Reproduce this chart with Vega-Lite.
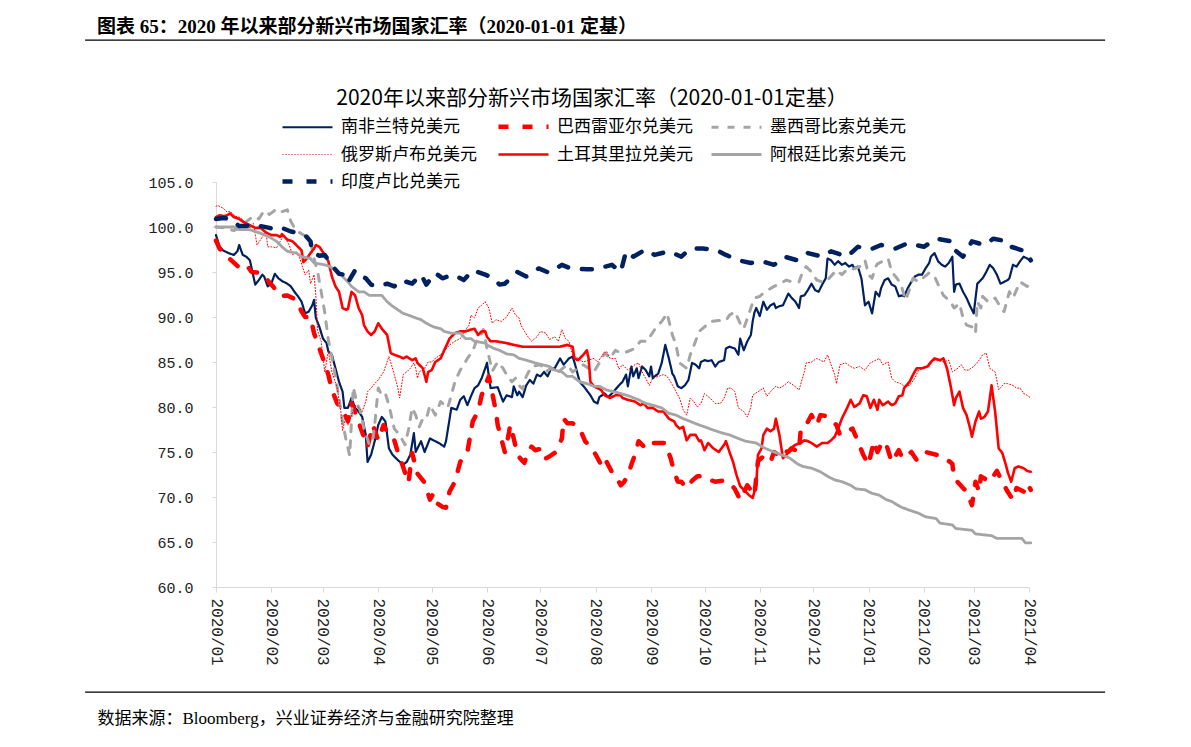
{
  "$schema": "https://vega.github.io/schema/vega-lite/v6.json",
  "width": 1020,
  "height": 652,
  "autosize": {"type": "none"},
  "padding": {"left": 85, "top": 40, "right": 86, "bottom": 55},
  "background": "#ffffff",
  "title": {
    "text": "图表 65：2020 年以来部分新兴市场国家汇率（2020-01-01 定基）",
    "anchor": "start",
    "frame": "group",
    "dx": 12,
    "offset": 3,
    "font": "Liberation Serif, Noto Sans CJK SC",
    "fontSize": 19,
    "fontWeight": "bold",
    "color": "#000000"
  },
  "datasets": {
    "names": [
      {"s": "ZAR", "name": "南非兰特兑美元"},
      {"s": "BRL", "name": "巴西雷亚尔兑美元"},
      {"s": "MXN", "name": "墨西哥比索兑美元"},
      {"s": "RUB", "name": "俄罗斯卢布兑美元"},
      {"s": "TRY", "name": "土耳其里拉兑美元"},
      {"s": "ARS", "name": "阿根廷比索兑美元"},
      {"s": "INR", "name": "印度卢比兑美元"}
    ],
    "fx": [
      {"s":"ZAR","d":"2020/01/01","v":99.1},{"s":"ZAR","d":"2020/01/03","v":97.8},{"s":"ZAR","d":"2020/01/05","v":97.4},{"s":"ZAR","d":"2020/01/08","v":97.1},{"s":"ZAR","d":"2020/01/11","v":96.9},{"s":"ZAR","d":"2020/01/13","v":97.3},{"s":"ZAR","d":"2020/01/14","v":98.0},{"s":"ZAR","d":"2020/01/16","v":96.9},{"s":"ZAR","d":"2020/01/18","v":96.7},{"s":"ZAR","d":"2020/01/20","v":96.3},{"s":"ZAR","d":"2020/01/23","v":93.6},{"s":"ZAR","d":"2020/01/25","v":94.1},{"s":"ZAR","d":"2020/01/27","v":94.7},{"s":"ZAR","d":"2020/01/28","v":94.5},{"s":"ZAR","d":"2020/01/30","v":93.4},{"s":"ZAR","d":"2020/02/01","v":93.7},{"s":"ZAR","d":"2020/02/03","v":94.8},{"s":"ZAR","d":"2020/02/05","v":94.3},{"s":"ZAR","d":"2020/02/07","v":94.0},{"s":"ZAR","d":"2020/02/10","v":93.7},{"s":"ZAR","d":"2020/02/12","v":93.4},{"s":"ZAR","d":"2020/02/14","v":92.8},{"s":"ZAR","d":"2020/02/16","v":92.3},{"s":"ZAR","d":"2020/02/18","v":91.7},{"s":"ZAR","d":"2020/02/20","v":90.4},{"s":"ZAR","d":"2020/02/22","v":90.6},{"s":"ZAR","d":"2020/02/24","v":91.3},{"s":"ZAR","d":"2020/02/25","v":91.9},{"s":"ZAR","d":"2020/02/26","v":89.9},{"s":"ZAR","d":"2020/02/28","v":88.9},{"s":"ZAR","d":"2020/03/01","v":87.6},{"s":"ZAR","d":"2020/03/03","v":87.1},{"s":"ZAR","d":"2020/03/04","v":86.2},{"s":"ZAR","d":"2020/03/06","v":85.8},{"s":"ZAR","d":"2020/03/08","v":84.3},{"s":"ZAR","d":"2020/03/10","v":82.8},{"s":"ZAR","d":"2020/03/12","v":81.7},{"s":"ZAR","d":"2020/03/13","v":79.9},{"s":"ZAR","d":"2020/03/15","v":79.9},{"s":"ZAR","d":"2020/03/17","v":81.0},{"s":"ZAR","d":"2020/03/19","v":79.9},{"s":"ZAR","d":"2020/03/21","v":79.5},{"s":"ZAR","d":"2020/03/23","v":78.9},{"s":"ZAR","d":"2020/03/25","v":76.9},{"s":"ZAR","d":"2020/03/26","v":73.9},{"s":"ZAR","d":"2020/03/28","v":74.7},{"s":"ZAR","d":"2020/03/30","v":76.2},{"s":"ZAR","d":"2020/04/01","v":78.0},{"s":"ZAR","d":"2020/04/03","v":78.9},{"s":"ZAR","d":"2020/04/05","v":78.4},{"s":"ZAR","d":"2020/04/07","v":75.4},{"s":"ZAR","d":"2020/04/09","v":74.7},{"s":"ZAR","d":"2020/04/12","v":74.1},{"s":"ZAR","d":"2020/04/15","v":73.6},{"s":"ZAR","d":"2020/04/17","v":73.9},{"s":"ZAR","d":"2020/04/19","v":74.7},{"s":"ZAR","d":"2020/04/21","v":77.1},{"s":"ZAR","d":"2020/04/22","v":75.0},{"s":"ZAR","d":"2020/04/25","v":76.2},{"s":"ZAR","d":"2020/04/27","v":75.0},{"s":"ZAR","d":"2020/04/30","v":76.5},{"s":"ZAR","d":"2020/05/05","v":76.0},{"s":"ZAR","d":"2020/05/08","v":75.6},{"s":"ZAR","d":"2020/05/09","v":76.2},{"s":"ZAR","d":"2020/05/12","v":79.9},{"s":"ZAR","d":"2020/05/15","v":79.7},{"s":"ZAR","d":"2020/05/17","v":80.8},{"s":"ZAR","d":"2020/05/19","v":81.2},{"s":"ZAR","d":"2020/05/21","v":80.2},{"s":"ZAR","d":"2020/05/23","v":81.2},{"s":"ZAR","d":"2020/05/25","v":82.1},{"s":"ZAR","d":"2020/05/27","v":82.4},{"s":"ZAR","d":"2020/05/29","v":83.2},{"s":"ZAR","d":"2020/05/31","v":84.3},{"s":"ZAR","d":"2020/06/01","v":84.9},{"s":"ZAR","d":"2020/06/03","v":82.1},{"s":"ZAR","d":"2020/06/07","v":82.2},{"s":"ZAR","d":"2020/06/10","v":80.6},{"s":"ZAR","d":"2020/06/12","v":81.3},{"s":"ZAR","d":"2020/06/15","v":81.1},{"s":"ZAR","d":"2020/06/16","v":82.3},{"s":"ZAR","d":"2020/06/18","v":81.3},{"s":"ZAR","d":"2020/06/19","v":81.7},{"s":"ZAR","d":"2020/06/21","v":81.1},{"s":"ZAR","d":"2020/06/23","v":82.4},{"s":"ZAR","d":"2020/06/25","v":83.0},{"s":"ZAR","d":"2020/06/27","v":82.6},{"s":"ZAR","d":"2020/06/29","v":83.6},{"s":"ZAR","d":"2020/07/01","v":83.4},{"s":"ZAR","d":"2020/07/03","v":83.9},{"s":"ZAR","d":"2020/07/05","v":83.4},{"s":"ZAR","d":"2020/07/07","v":84.3},{"s":"ZAR","d":"2020/07/09","v":84.3},{"s":"ZAR","d":"2020/07/12","v":85.4},{"s":"ZAR","d":"2020/07/14","v":84.7},{"s":"ZAR","d":"2020/07/17","v":85.4},{"s":"ZAR","d":"2020/07/19","v":85.6},{"s":"ZAR","d":"2020/07/20","v":85.0},{"s":"ZAR","d":"2020/07/23","v":82.8},{"s":"ZAR","d":"2020/07/26","v":82.1},{"s":"ZAR","d":"2020/07/29","v":81.3},{"s":"ZAR","d":"2020/07/31","v":80.6},{"s":"ZAR","d":"2020/08/02","v":80.4},{"s":"ZAR","d":"2020/08/03","v":81.1},{"s":"ZAR","d":"2020/08/06","v":81.5},{"s":"ZAR","d":"2020/08/08","v":81.1},{"s":"ZAR","d":"2020/08/11","v":81.7},{"s":"ZAR","d":"2020/08/14","v":82.4},{"s":"ZAR","d":"2020/08/16","v":82.8},{"s":"ZAR","d":"2020/08/18","v":83.6},{"s":"ZAR","d":"2020/08/19","v":82.3},{"s":"ZAR","d":"2020/08/21","v":84.5},{"s":"ZAR","d":"2020/08/22","v":83.4},{"s":"ZAR","d":"2020/08/24","v":84.3},{"s":"ZAR","d":"2020/08/25","v":83.2},{"s":"ZAR","d":"2020/08/27","v":84.5},{"s":"ZAR","d":"2020/08/29","v":84.1},{"s":"ZAR","d":"2020/08/31","v":83.4},{"s":"ZAR","d":"2020/09/01","v":84.5},{"s":"ZAR","d":"2020/09/02","v":83.2},{"s":"ZAR","d":"2020/09/03","v":83.4},{"s":"ZAR","d":"2020/09/05","v":83.7},{"s":"ZAR","d":"2020/09/07","v":84.9},{"s":"ZAR","d":"2020/09/09","v":86.9},{"s":"ZAR","d":"2020/09/11","v":85.4},{"s":"ZAR","d":"2020/09/13","v":83.7},{"s":"ZAR","d":"2020/09/14","v":83.4},{"s":"ZAR","d":"2020/09/16","v":82.3},{"s":"ZAR","d":"2020/09/18","v":82.1},{"s":"ZAR","d":"2020/09/20","v":82.4},{"s":"ZAR","d":"2020/09/22","v":83.0},{"s":"ZAR","d":"2020/09/24","v":84.9},{"s":"ZAR","d":"2020/09/26","v":84.7},{"s":"ZAR","d":"2020/09/28","v":84.3},{"s":"ZAR","d":"2020/09/29","v":85.0},{"s":"ZAR","d":"2020/10/01","v":85.2},{"s":"ZAR","d":"2020/10/03","v":85.1},{"s":"ZAR","d":"2020/10/05","v":85.2},{"s":"ZAR","d":"2020/10/07","v":84.5},{"s":"ZAR","d":"2020/10/09","v":85.0},{"s":"ZAR","d":"2020/10/12","v":85.2},{"s":"ZAR","d":"2020/10/13","v":86.5},{"s":"ZAR","d":"2020/10/15","v":86.7},{"s":"ZAR","d":"2020/10/18","v":86.5},{"s":"ZAR","d":"2020/10/20","v":85.8},{"s":"ZAR","d":"2020/10/21","v":87.6},{"s":"ZAR","d":"2020/10/23","v":86.3},{"s":"ZAR","d":"2020/10/25","v":87.3},{"s":"ZAR","d":"2020/10/27","v":88.0},{"s":"ZAR","d":"2020/10/28","v":89.5},{"s":"ZAR","d":"2020/10/29","v":90.5},{"s":"ZAR","d":"2020/10/30","v":91.0},{"s":"ZAR","d":"2020/11/01","v":90.1},{"s":"ZAR","d":"2020/11/03","v":91.7},{"s":"ZAR","d":"2020/11/05","v":90.8},{"s":"ZAR","d":"2020/11/07","v":91.3},{"s":"ZAR","d":"2020/11/09","v":91.5},{"s":"ZAR","d":"2020/11/10","v":91.0},{"s":"ZAR","d":"2020/11/12","v":91.2},{"s":"ZAR","d":"2020/11/14","v":91.3},{"s":"ZAR","d":"2020/11/17","v":92.6},{"s":"ZAR","d":"2020/11/19","v":92.1},{"s":"ZAR","d":"2020/11/21","v":91.7},{"s":"ZAR","d":"2020/11/23","v":91.0},{"s":"ZAR","d":"2020/11/24","v":92.3},{"s":"ZAR","d":"2020/11/26","v":92.4},{"s":"ZAR","d":"2020/11/28","v":93.0},{"s":"ZAR","d":"2020/11/30","v":93.7},{"s":"ZAR","d":"2020/12/02","v":93.0},{"s":"ZAR","d":"2020/12/04","v":92.8},{"s":"ZAR","d":"2020/12/06","v":93.6},{"s":"ZAR","d":"2020/12/08","v":94.3},{"s":"ZAR","d":"2020/12/09","v":96.5},{"s":"ZAR","d":"2020/12/11","v":96.3},{"s":"ZAR","d":"2020/12/13","v":95.8},{"s":"ZAR","d":"2020/12/15","v":96.2},{"s":"ZAR","d":"2020/12/17","v":95.8},{"s":"ZAR","d":"2020/12/19","v":96.0},{"s":"ZAR","d":"2020/12/21","v":95.6},{"s":"ZAR","d":"2020/12/23","v":95.8},{"s":"ZAR","d":"2020/12/24","v":95.4},{"s":"ZAR","d":"2020/12/26","v":95.6},{"s":"ZAR","d":"2020/12/28","v":94.3},{"s":"ZAR","d":"2020/12/30","v":91.3},{"s":"ZAR","d":"2021/01/01","v":91.7},{"s":"ZAR","d":"2021/01/03","v":90.4},{"s":"ZAR","d":"2021/01/05","v":92.8},{"s":"ZAR","d":"2021/01/07","v":92.3},{"s":"ZAR","d":"2021/01/08","v":93.2},{"s":"ZAR","d":"2021/01/10","v":94.1},{"s":"ZAR","d":"2021/01/12","v":94.3},{"s":"ZAR","d":"2021/01/14","v":93.6},{"s":"ZAR","d":"2021/01/16","v":93.4},{"s":"ZAR","d":"2021/01/18","v":92.3},{"s":"ZAR","d":"2021/01/20","v":92.4},{"s":"ZAR","d":"2021/01/21","v":92.3},{"s":"ZAR","d":"2021/01/23","v":93.2},{"s":"ZAR","d":"2021/01/25","v":93.9},{"s":"ZAR","d":"2021/01/27","v":94.5},{"s":"ZAR","d":"2021/01/29","v":94.7},{"s":"ZAR","d":"2021/01/31","v":94.7},{"s":"ZAR","d":"2021/02/02","v":95.4},{"s":"ZAR","d":"2021/02/04","v":96.0},{"s":"ZAR","d":"2021/02/05","v":96.7},{"s":"ZAR","d":"2021/02/07","v":97.1},{"s":"ZAR","d":"2021/02/09","v":96.2},{"s":"ZAR","d":"2021/02/11","v":95.8},{"s":"ZAR","d":"2021/02/13","v":95.6},{"s":"ZAR","d":"2021/02/15","v":96.0},{"s":"ZAR","d":"2021/02/17","v":96.7},{"s":"ZAR","d":"2021/02/18","v":92.8},{"s":"ZAR","d":"2021/02/19","v":93.6},{"s":"ZAR","d":"2021/02/21","v":93.7},{"s":"ZAR","d":"2021/02/23","v":92.8},{"s":"ZAR","d":"2021/02/25","v":92.1},{"s":"ZAR","d":"2021/02/27","v":91.2},{"s":"ZAR","d":"2021/03/01","v":90.4},{"s":"ZAR","d":"2021/03/03","v":93.7},{"s":"ZAR","d":"2021/03/05","v":94.1},{"s":"ZAR","d":"2021/03/06","v":94.3},{"s":"ZAR","d":"2021/03/08","v":95.0},{"s":"ZAR","d":"2021/03/10","v":95.8},{"s":"ZAR","d":"2021/03/12","v":95.4},{"s":"ZAR","d":"2021/03/14","v":94.7},{"s":"ZAR","d":"2021/03/16","v":93.7},{"s":"ZAR","d":"2021/03/18","v":93.9},{"s":"ZAR","d":"2021/03/20","v":94.1},{"s":"ZAR","d":"2021/03/21","v":94.3},{"s":"ZAR","d":"2021/03/23","v":95.8},{"s":"ZAR","d":"2021/03/25","v":95.6},{"s":"ZAR","d":"2021/03/27","v":96.2},{"s":"ZAR","d":"2021/03/29","v":96.7},{"s":"ZAR","d":"2021/03/31","v":96.5},{"s":"ZAR","d":"2021/04/02","v":96.2},

      {"s":"BRL","d":"2020/01/01","v":98.5},{"s":"BRL","d":"2020/01/03","v":97.6},{"s":"BRL","d":"2020/01/06","v":97.0},{"s":"BRL","d":"2020/01/09","v":96.4},{"s":"BRL","d":"2020/01/14","v":95.5},{"s":"BRL","d":"2020/01/18","v":95.8},{"s":"BRL","d":"2020/01/21","v":95.0},{"s":"BRL","d":"2020/01/26","v":94.9},{"s":"BRL","d":"2020/01/29","v":94.3},{"s":"BRL","d":"2020/02/02","v":93.4},{"s":"BRL","d":"2020/02/06","v":92.3},{"s":"BRL","d":"2020/02/10","v":92.4},{"s":"BRL","d":"2020/02/15","v":91.9},{"s":"BRL","d":"2020/02/18","v":90.6},{"s":"BRL","d":"2020/02/20","v":90.0},{"s":"BRL","d":"2020/02/23","v":90.0},{"s":"BRL","d":"2020/02/25","v":88.2},{"s":"BRL","d":"2020/02/28","v":86.5},{"s":"BRL","d":"2020/03/01","v":85.4},{"s":"BRL","d":"2020/03/04","v":83.6},{"s":"BRL","d":"2020/03/06","v":81.9},{"s":"BRL","d":"2020/03/09","v":80.4},{"s":"BRL","d":"2020/03/12","v":79.7},{"s":"BRL","d":"2020/03/15","v":78.4},{"s":"BRL","d":"2020/03/17","v":80.4},{"s":"BRL","d":"2020/03/20","v":78.9},{"s":"BRL","d":"2020/03/23","v":77.2},{"s":"BRL","d":"2020/03/26","v":75.6},{"s":"BRL","d":"2020/03/29","v":78.0},{"s":"BRL","d":"2020/04/01","v":76.3},{"s":"BRL","d":"2020/04/04","v":78.0},{"s":"BRL","d":"2020/04/06","v":77.2},{"s":"BRL","d":"2020/04/10","v":76.3},{"s":"BRL","d":"2020/04/12","v":75.0},{"s":"BRL","d":"2020/04/15","v":73.3},{"s":"BRL","d":"2020/04/18","v":71.6},{"s":"BRL","d":"2020/04/20","v":74.9},{"s":"BRL","d":"2020/04/23","v":72.6},{"s":"BRL","d":"2020/04/27","v":71.6},{"s":"BRL","d":"2020/04/30","v":69.7},{"s":"BRL","d":"2020/05/02","v":70.4},{"s":"BRL","d":"2020/05/04","v":69.3},{"s":"BRL","d":"2020/05/07","v":68.9},{"s":"BRL","d":"2020/05/09","v":68.8},{"s":"BRL","d":"2020/05/11","v":70.6},{"s":"BRL","d":"2020/05/14","v":71.7},{"s":"BRL","d":"2020/05/17","v":73.9},{"s":"BRL","d":"2020/05/21","v":75.0},{"s":"BRL","d":"2020/05/24","v":78.4},{"s":"BRL","d":"2020/05/27","v":79.5},{"s":"BRL","d":"2020/05/29","v":81.3},{"s":"BRL","d":"2020/05/31","v":82.4},{"s":"BRL","d":"2020/06/02","v":83.4},{"s":"BRL","d":"2020/06/04","v":81.5},{"s":"BRL","d":"2020/06/06","v":79.5},{"s":"BRL","d":"2020/06/07","v":78.0},{"s":"BRL","d":"2020/06/09","v":76.5},{"s":"BRL","d":"2020/06/11","v":75.0},{"s":"BRL","d":"2020/06/13","v":76.8},{"s":"BRL","d":"2020/06/14","v":78.0},{"s":"BRL","d":"2020/06/16","v":76.5},{"s":"BRL","d":"2020/06/18","v":74.7},{"s":"BRL","d":"2020/06/20","v":74.2},{"s":"BRL","d":"2020/06/22","v":73.8},{"s":"BRL","d":"2020/06/24","v":75.0},{"s":"BRL","d":"2020/06/26","v":75.6},{"s":"BRL","d":"2020/06/28","v":75.2},{"s":"BRL","d":"2020/06/30","v":75.3},{"s":"BRL","d":"2020/07/02","v":75.4},{"s":"BRL","d":"2020/07/04","v":74.3},{"s":"BRL","d":"2020/07/06","v":74.5},{"s":"BRL","d":"2020/07/09","v":74.9},{"s":"BRL","d":"2020/07/11","v":75.6},{"s":"BRL","d":"2020/07/13","v":76.5},{"s":"BRL","d":"2020/07/14","v":78.7},{"s":"BRL","d":"2020/07/16","v":78.2},{"s":"BRL","d":"2020/07/19","v":78.2},{"s":"BRL","d":"2020/07/21","v":77.9},{"s":"BRL","d":"2020/07/23","v":77.6},{"s":"BRL","d":"2020/07/26","v":76.2},{"s":"BRL","d":"2020/07/29","v":75.6},{"s":"BRL","d":"2020/08/01","v":74.7},{"s":"BRL","d":"2020/08/04","v":73.6},{"s":"BRL","d":"2020/08/06","v":74.3},{"s":"BRL","d":"2020/08/10","v":72.8},{"s":"BRL","d":"2020/08/12","v":72.4},{"s":"BRL","d":"2020/08/15","v":71.3},{"s":"BRL","d":"2020/08/17","v":71.7},{"s":"BRL","d":"2020/08/19","v":72.4},{"s":"BRL","d":"2020/08/21","v":73.6},{"s":"BRL","d":"2020/08/23","v":74.7},{"s":"BRL","d":"2020/08/25","v":76.2},{"s":"BRL","d":"2020/08/29","v":75.4},{"s":"BRL","d":"2020/09/01","v":76.0},{"s":"BRL","d":"2020/09/06","v":76.0},{"s":"BRL","d":"2020/09/09","v":76.0},{"s":"BRL","d":"2020/09/12","v":74.3},{"s":"BRL","d":"2020/09/14","v":72.8},{"s":"BRL","d":"2020/09/16","v":71.7},{"s":"BRL","d":"2020/09/18","v":71.7},{"s":"BRL","d":"2020/09/21","v":71.0},{"s":"BRL","d":"2020/09/24","v":71.8},{"s":"BRL","d":"2020/09/27","v":72.3},{"s":"BRL","d":"2020/10/01","v":72.3},{"s":"BRL","d":"2020/10/04","v":71.9},{"s":"BRL","d":"2020/10/07","v":71.7},{"s":"BRL","d":"2020/10/11","v":71.8},{"s":"BRL","d":"2020/10/15","v":71.6},{"s":"BRL","d":"2020/10/18","v":70.9},{"s":"BRL","d":"2020/10/21","v":69.7},{"s":"BRL","d":"2020/10/25","v":71.3},{"s":"BRL","d":"2020/10/29","v":70.2},{"s":"BRL","d":"2020/10/31","v":74.0},{"s":"BRL","d":"2020/11/03","v":74.5},{"s":"BRL","d":"2020/11/07","v":73.9},{"s":"BRL","d":"2020/11/09","v":75.0},{"s":"BRL","d":"2020/11/12","v":74.6},{"s":"BRL","d":"2020/11/14","v":75.2},{"s":"BRL","d":"2020/11/17","v":75.0},{"s":"BRL","d":"2020/11/19","v":75.4},{"s":"BRL","d":"2020/11/23","v":75.0},{"s":"BRL","d":"2020/11/24","v":77.6},{"s":"BRL","d":"2020/11/27","v":78.0},{"s":"BRL","d":"2020/11/30","v":79.1},{"s":"BRL","d":"2020/12/03","v":78.0},{"s":"BRL","d":"2020/12/05","v":79.1},{"s":"BRL","d":"2020/12/08","v":79.0},{"s":"BRL","d":"2020/12/11","v":78.5},{"s":"BRL","d":"2020/12/14","v":78.0},{"s":"BRL","d":"2020/12/16","v":76.9},{"s":"BRL","d":"2020/12/20","v":77.3},{"s":"BRL","d":"2020/12/23","v":77.6},{"s":"BRL","d":"2020/12/26","v":76.2},{"s":"BRL","d":"2020/12/29","v":74.7},{"s":"BRL","d":"2021/01/01","v":73.6},{"s":"BRL","d":"2021/01/04","v":76.2},{"s":"BRL","d":"2021/01/06","v":75.0},{"s":"BRL","d":"2021/01/09","v":76.2},{"s":"BRL","d":"2021/01/11","v":75.8},{"s":"BRL","d":"2021/01/14","v":73.9},{"s":"BRL","d":"2021/01/18","v":75.2},{"s":"BRL","d":"2021/01/20","v":74.3},{"s":"BRL","d":"2021/01/25","v":75.0},{"s":"BRL","d":"2021/01/28","v":74.1},{"s":"BRL","d":"2021/02/02","v":75.0},{"s":"BRL","d":"2021/02/08","v":74.7},{"s":"BRL","d":"2021/02/13","v":74.3},{"s":"BRL","d":"2021/02/17","v":73.7},{"s":"BRL","d":"2021/02/18","v":72.1},{"s":"BRL","d":"2021/02/23","v":71.0},{"s":"BRL","d":"2021/02/25","v":70.6},{"s":"BRL","d":"2021/02/28","v":69.1},{"s":"BRL","d":"2021/03/02","v":71.7},{"s":"BRL","d":"2021/03/04","v":70.6},{"s":"BRL","d":"2021/03/05","v":72.3},{"s":"BRL","d":"2021/03/10","v":71.7},{"s":"BRL","d":"2021/03/14","v":72.9},{"s":"BRL","d":"2021/03/17","v":71.7},{"s":"BRL","d":"2021/03/20","v":70.6},{"s":"BRL","d":"2021/03/23","v":69.7},{"s":"BRL","d":"2021/03/25","v":71.0},{"s":"BRL","d":"2021/03/29","v":70.6},{"s":"BRL","d":"2021/03/31","v":71.5},{"s":"BRL","d":"2021/04/02","v":70.8},

      {"s":"MXN","d":"2020/01/01","v":100.0},{"s":"MXN","d":"2020/01/06","v":99.9},{"s":"MXN","d":"2020/01/11","v":99.6},{"s":"MXN","d":"2020/01/14","v":99.9},{"s":"MXN","d":"2020/01/18","v":100.6},{"s":"MXN","d":"2020/01/22","v":101.2},{"s":"MXN","d":"2020/01/25","v":100.9},{"s":"MXN","d":"2020/01/28","v":101.8},{"s":"MXN","d":"2020/01/31","v":101.4},{"s":"MXN","d":"2020/02/04","v":102.0},{"s":"MXN","d":"2020/02/07","v":101.7},{"s":"MXN","d":"2020/02/10","v":101.9},{"s":"MXN","d":"2020/02/12","v":100.6},{"s":"MXN","d":"2020/02/15","v":99.6},{"s":"MXN","d":"2020/02/20","v":99.0},{"s":"MXN","d":"2020/02/23","v":98.4},{"s":"MXN","d":"2020/02/25","v":96.5},{"s":"MXN","d":"2020/02/27","v":95.0},{"s":"MXN","d":"2020/02/29","v":92.8},{"s":"MXN","d":"2020/03/02","v":90.5},{"s":"MXN","d":"2020/03/04","v":87.5},{"s":"MXN","d":"2020/03/06","v":85.5},{"s":"MXN","d":"2020/03/08","v":83.4},{"s":"MXN","d":"2020/03/10","v":81.0},{"s":"MXN","d":"2020/03/12","v":78.3},{"s":"MXN","d":"2020/03/14","v":76.3},{"s":"MXN","d":"2020/03/16","v":74.6},{"s":"MXN","d":"2020/03/18","v":82.2},{"s":"MXN","d":"2020/03/20","v":80.5},{"s":"MXN","d":"2020/03/22","v":79.5},{"s":"MXN","d":"2020/03/24","v":77.6},{"s":"MXN","d":"2020/03/27","v":75.8},{"s":"MXN","d":"2020/03/29","v":76.5},{"s":"MXN","d":"2020/03/30","v":78.0},{"s":"MXN","d":"2020/04/01","v":82.1},{"s":"MXN","d":"2020/04/03","v":81.3},{"s":"MXN","d":"2020/04/05","v":81.5},{"s":"MXN","d":"2020/04/07","v":80.2},{"s":"MXN","d":"2020/04/10","v":77.6},{"s":"MXN","d":"2020/04/13","v":76.9},{"s":"MXN","d":"2020/04/16","v":75.8},{"s":"MXN","d":"2020/04/18","v":77.5},{"s":"MXN","d":"2020/04/20","v":79.9},{"s":"MXN","d":"2020/04/22","v":79.1},{"s":"MXN","d":"2020/04/24","v":77.8},{"s":"MXN","d":"2020/04/26","v":78.7},{"s":"MXN","d":"2020/04/28","v":78.7},{"s":"MXN","d":"2020/04/30","v":80.2},{"s":"MXN","d":"2020/05/03","v":79.1},{"s":"MXN","d":"2020/05/06","v":80.6},{"s":"MXN","d":"2020/05/10","v":79.9},{"s":"MXN","d":"2020/05/14","v":82.8},{"s":"MXN","d":"2020/05/17","v":84.1},{"s":"MXN","d":"2020/05/19","v":84.7},{"s":"MXN","d":"2020/05/21","v":85.4},{"s":"MXN","d":"2020/05/24","v":86.2},{"s":"MXN","d":"2020/05/26","v":87.3},{"s":"MXN","d":"2020/05/28","v":87.8},{"s":"MXN","d":"2020/05/30","v":88.6},{"s":"MXN","d":"2020/06/01","v":86.5},{"s":"MXN","d":"2020/06/04","v":84.0},{"s":"MXN","d":"2020/06/07","v":85.0},{"s":"MXN","d":"2020/06/10","v":84.3},{"s":"MXN","d":"2020/06/12","v":83.6},{"s":"MXN","d":"2020/06/15","v":82.8},{"s":"MXN","d":"2020/06/17","v":83.2},{"s":"MXN","d":"2020/06/19","v":82.4},{"s":"MXN","d":"2020/06/21","v":82.0},{"s":"MXN","d":"2020/06/23","v":83.4},{"s":"MXN","d":"2020/06/26","v":84.5},{"s":"MXN","d":"2020/07/01","v":84.7},{"s":"MXN","d":"2020/07/04","v":83.9},{"s":"MXN","d":"2020/07/07","v":84.3},{"s":"MXN","d":"2020/07/10","v":83.7},{"s":"MXN","d":"2020/07/16","v":84.7},{"s":"MXN","d":"2020/07/19","v":83.9},{"s":"MXN","d":"2020/07/25","v":84.7},{"s":"MXN","d":"2020/07/31","v":83.9},{"s":"MXN","d":"2020/08/03","v":84.9},{"s":"MXN","d":"2020/08/06","v":86.0},{"s":"MXN","d":"2020/08/09","v":85.4},{"s":"MXN","d":"2020/08/12","v":86.3},{"s":"MXN","d":"2020/08/15","v":86.0},{"s":"MXN","d":"2020/08/18","v":86.1},{"s":"MXN","d":"2020/08/23","v":86.5},{"s":"MXN","d":"2020/08/26","v":87.3},{"s":"MXN","d":"2020/08/30","v":87.3},{"s":"MXN","d":"2020/09/01","v":88.0},{"s":"MXN","d":"2020/09/04","v":88.9},{"s":"MXN","d":"2020/09/07","v":89.5},{"s":"MXN","d":"2020/09/10","v":90.4},{"s":"MXN","d":"2020/09/13","v":88.0},{"s":"MXN","d":"2020/09/15","v":86.9},{"s":"MXN","d":"2020/09/17","v":84.9},{"s":"MXN","d":"2020/09/21","v":84.3},{"s":"MXN","d":"2020/09/23","v":85.8},{"s":"MXN","d":"2020/09/25","v":86.8},{"s":"MXN","d":"2020/09/28","v":88.4},{"s":"MXN","d":"2020/10/01","v":88.9},{"s":"MXN","d":"2020/10/04","v":89.5},{"s":"MXN","d":"2020/10/09","v":89.6},{"s":"MXN","d":"2020/10/13","v":89.6},{"s":"MXN","d":"2020/10/15","v":90.2},{"s":"MXN","d":"2020/10/18","v":90.6},{"s":"MXN","d":"2020/10/21","v":89.3},{"s":"MXN","d":"2020/10/23","v":88.7},{"s":"MXN","d":"2020/10/27","v":91.0},{"s":"MXN","d":"2020/10/29","v":92.1},{"s":"MXN","d":"2020/11/01","v":92.3},{"s":"MXN","d":"2020/11/04","v":92.8},{"s":"MXN","d":"2020/11/09","v":93.4},{"s":"MXN","d":"2020/11/12","v":93.7},{"s":"MXN","d":"2020/11/16","v":94.1},{"s":"MXN","d":"2020/11/19","v":93.9},{"s":"MXN","d":"2020/11/23","v":93.9},{"s":"MXN","d":"2020/11/25","v":95.0},{"s":"MXN","d":"2020/11/27","v":95.6},{"s":"MXN","d":"2020/11/30","v":95.0},{"s":"MXN","d":"2020/12/03","v":94.1},{"s":"MXN","d":"2020/12/06","v":93.9},{"s":"MXN","d":"2020/12/08","v":93.9},{"s":"MXN","d":"2020/12/14","v":95.2},{"s":"MXN","d":"2020/12/17","v":94.7},{"s":"MXN","d":"2020/12/20","v":95.3},{"s":"MXN","d":"2020/12/23","v":95.3},{"s":"MXN","d":"2020/12/27","v":95.6},{"s":"MXN","d":"2020/12/30","v":96.3},{"s":"MXN","d":"2021/01/01","v":94.7},{"s":"MXN","d":"2021/01/03","v":94.3},{"s":"MXN","d":"2021/01/05","v":95.6},{"s":"MXN","d":"2021/01/06","v":95.9},{"s":"MXN","d":"2021/01/09","v":96.2},{"s":"MXN","d":"2021/01/12","v":96.5},{"s":"MXN","d":"2021/01/14","v":95.0},{"s":"MXN","d":"2021/01/17","v":94.3},{"s":"MXN","d":"2021/01/19","v":93.7},{"s":"MXN","d":"2021/01/21","v":92.4},{"s":"MXN","d":"2021/01/22","v":91.9},{"s":"MXN","d":"2021/01/26","v":94.3},{"s":"MXN","d":"2021/01/29","v":93.9},{"s":"MXN","d":"2021/02/04","v":94.9},{"s":"MXN","d":"2021/02/07","v":94.5},{"s":"MXN","d":"2021/02/10","v":93.2},{"s":"MXN","d":"2021/02/12","v":92.4},{"s":"MXN","d":"2021/02/16","v":91.7},{"s":"MXN","d":"2021/02/18","v":91.0},{"s":"MXN","d":"2021/02/21","v":91.5},{"s":"MXN","d":"2021/02/23","v":89.9},{"s":"MXN","d":"2021/02/25","v":89.1},{"s":"MXN","d":"2021/02/28","v":88.9},{"s":"MXN","d":"2021/03/02","v":88.2},{"s":"MXN","d":"2021/03/03","v":91.7},{"s":"MXN","d":"2021/03/05","v":91.0},{"s":"MXN","d":"2021/03/06","v":92.3},{"s":"MXN","d":"2021/03/09","v":91.7},{"s":"MXN","d":"2021/03/13","v":92.1},{"s":"MXN","d":"2021/03/16","v":91.1},{"s":"MXN","d":"2021/03/18","v":90.6},{"s":"MXN","d":"2021/03/21","v":92.8},{"s":"MXN","d":"2021/03/23","v":92.1},{"s":"MXN","d":"2021/03/27","v":93.9},{"s":"MXN","d":"2021/03/31","v":93.4},{"s":"MXN","d":"2021/04/02","v":93.8},

      {"s":"RUB","d":"2020/01/01","v":102.3},{"s":"RUB","d":"2020/01/02","v":102.4},{"s":"RUB","d":"2020/01/05","v":102.1},{"s":"RUB","d":"2020/01/07","v":101.7},{"s":"RUB","d":"2020/01/09","v":101.7},{"s":"RUB","d":"2020/01/12","v":101.2},{"s":"RUB","d":"2020/01/14","v":101.1},{"s":"RUB","d":"2020/01/16","v":100.8},{"s":"RUB","d":"2020/01/20","v":99.9},{"s":"RUB","d":"2020/01/22","v":100.4},{"s":"RUB","d":"2020/01/24","v":98.0},{"s":"RUB","d":"2020/01/27","v":98.9},{"s":"RUB","d":"2020/01/29","v":99.5},{"s":"RUB","d":"2020/01/30","v":97.8},{"s":"RUB","d":"2020/02/01","v":97.8},{"s":"RUB","d":"2020/02/04","v":97.7},{"s":"RUB","d":"2020/02/08","v":99.1},{"s":"RUB","d":"2020/02/11","v":98.0},{"s":"RUB","d":"2020/02/13","v":96.9},{"s":"RUB","d":"2020/02/15","v":97.3},{"s":"RUB","d":"2020/02/17","v":96.5},{"s":"RUB","d":"2020/02/20","v":94.7},{"s":"RUB","d":"2020/02/22","v":95.2},{"s":"RUB","d":"2020/02/23","v":93.7},{"s":"RUB","d":"2020/02/25","v":94.7},{"s":"RUB","d":"2020/02/26","v":92.4},{"s":"RUB","d":"2020/02/27","v":88.5},{"s":"RUB","d":"2020/02/29","v":87.3},{"s":"RUB","d":"2020/03/02","v":83.9},{"s":"RUB","d":"2020/03/04","v":86.2},{"s":"RUB","d":"2020/03/06","v":83.9},{"s":"RUB","d":"2020/03/09","v":82.1},{"s":"RUB","d":"2020/03/11","v":79.5},{"s":"RUB","d":"2020/03/12","v":77.4},{"s":"RUB","d":"2020/03/14","v":79.1},{"s":"RUB","d":"2020/03/15","v":78.0},{"s":"RUB","d":"2020/03/17","v":79.1},{"s":"RUB","d":"2020/03/19","v":80.2},{"s":"RUB","d":"2020/03/21","v":79.9},{"s":"RUB","d":"2020/03/23","v":79.5},{"s":"RUB","d":"2020/03/25","v":80.6},{"s":"RUB","d":"2020/03/26","v":81.7},{"s":"RUB","d":"2020/03/28","v":82.1},{"s":"RUB","d":"2020/03/30","v":82.6},{"s":"RUB","d":"2020/04/01","v":83.0},{"s":"RUB","d":"2020/04/04","v":83.9},{"s":"RUB","d":"2020/04/07","v":85.6},{"s":"RUB","d":"2020/04/09","v":84.3},{"s":"RUB","d":"2020/04/10","v":83.6},{"s":"RUB","d":"2020/04/12","v":82.1},{"s":"RUB","d":"2020/04/13","v":81.0},{"s":"RUB","d":"2020/04/15","v":83.6},{"s":"RUB","d":"2020/04/17","v":83.9},{"s":"RUB","d":"2020/04/19","v":84.3},{"s":"RUB","d":"2020/04/21","v":84.9},{"s":"RUB","d":"2020/04/22","v":84.3},{"s":"RUB","d":"2020/04/23","v":83.2},{"s":"RUB","d":"2020/04/24","v":83.9},{"s":"RUB","d":"2020/04/27","v":84.3},{"s":"RUB","d":"2020/04/29","v":85.0},{"s":"RUB","d":"2020/05/01","v":85.0},{"s":"RUB","d":"2020/05/03","v":85.4},{"s":"RUB","d":"2020/05/06","v":85.8},{"s":"RUB","d":"2020/05/08","v":86.2},{"s":"RUB","d":"2020/05/11","v":86.9},{"s":"RUB","d":"2020/05/14","v":87.3},{"s":"RUB","d":"2020/05/17","v":87.6},{"s":"RUB","d":"2020/05/20","v":88.6},{"s":"RUB","d":"2020/05/22","v":89.1},{"s":"RUB","d":"2020/05/23","v":90.2},{"s":"RUB","d":"2020/05/25","v":89.9},{"s":"RUB","d":"2020/05/27","v":91.0},{"s":"RUB","d":"2020/05/29","v":91.3},{"s":"RUB","d":"2020/05/31","v":91.7},{"s":"RUB","d":"2020/06/02","v":91.0},{"s":"RUB","d":"2020/06/04","v":89.3},{"s":"RUB","d":"2020/06/06","v":89.7},{"s":"RUB","d":"2020/06/09","v":89.5},{"s":"RUB","d":"2020/06/12","v":90.0},{"s":"RUB","d":"2020/06/15","v":91.0},{"s":"RUB","d":"2020/06/17","v":90.2},{"s":"RUB","d":"2020/06/19","v":89.9},{"s":"RUB","d":"2020/06/20","v":89.1},{"s":"RUB","d":"2020/06/22","v":88.4},{"s":"RUB","d":"2020/06/24","v":87.8},{"s":"RUB","d":"2020/06/26","v":87.3},{"s":"RUB","d":"2020/06/29","v":87.8},{"s":"RUB","d":"2020/07/01","v":88.4},{"s":"RUB","d":"2020/07/04","v":88.2},{"s":"RUB","d":"2020/07/06","v":87.5},{"s":"RUB","d":"2020/07/09","v":87.8},{"s":"RUB","d":"2020/07/11","v":87.3},{"s":"RUB","d":"2020/07/13","v":88.6},{"s":"RUB","d":"2020/07/15","v":87.6},{"s":"RUB","d":"2020/07/17","v":87.3},{"s":"RUB","d":"2020/07/19","v":85.8},{"s":"RUB","d":"2020/07/22","v":85.4},{"s":"RUB","d":"2020/07/25","v":85.0},{"s":"RUB","d":"2020/07/28","v":85.2},{"s":"RUB","d":"2020/07/31","v":85.4},{"s":"RUB","d":"2020/08/02","v":85.0},{"s":"RUB","d":"2020/08/05","v":85.8},{"s":"RUB","d":"2020/08/07","v":86.2},{"s":"RUB","d":"2020/08/09","v":85.4},{"s":"RUB","d":"2020/08/12","v":85.4},{"s":"RUB","d":"2020/08/14","v":84.2},{"s":"RUB","d":"2020/08/16","v":84.7},{"s":"RUB","d":"2020/08/19","v":84.1},{"s":"RUB","d":"2020/08/23","v":84.7},{"s":"RUB","d":"2020/08/25","v":84.9},{"s":"RUB","d":"2020/08/27","v":83.9},{"s":"RUB","d":"2020/08/30","v":82.8},{"s":"RUB","d":"2020/08/31","v":82.4},{"s":"RUB","d":"2020/09/02","v":83.2},{"s":"RUB","d":"2020/09/05","v":83.4},{"s":"RUB","d":"2020/09/08","v":83.6},{"s":"RUB","d":"2020/09/10","v":83.4},{"s":"RUB","d":"2020/09/12","v":82.8},{"s":"RUB","d":"2020/09/14","v":82.1},{"s":"RUB","d":"2020/09/15","v":81.7},{"s":"RUB","d":"2020/09/17","v":81.0},{"s":"RUB","d":"2020/09/19","v":79.7},{"s":"RUB","d":"2020/09/21","v":79.1},{"s":"RUB","d":"2020/09/23","v":81.0},{"s":"RUB","d":"2020/09/25","v":80.6},{"s":"RUB","d":"2020/09/27","v":80.0},{"s":"RUB","d":"2020/09/29","v":80.4},{"s":"RUB","d":"2020/10/01","v":81.5},{"s":"RUB","d":"2020/10/04","v":81.0},{"s":"RUB","d":"2020/10/07","v":80.4},{"s":"RUB","d":"2020/10/10","v":80.4},{"s":"RUB","d":"2020/10/12","v":81.0},{"s":"RUB","d":"2020/10/14","v":82.1},{"s":"RUB","d":"2020/10/16","v":82.1},{"s":"RUB","d":"2020/10/18","v":81.7},{"s":"RUB","d":"2020/10/20","v":79.9},{"s":"RUB","d":"2020/10/23","v":79.5},{"s":"RUB","d":"2020/10/25","v":78.9},{"s":"RUB","d":"2020/10/27","v":80.0},{"s":"RUB","d":"2020/10/28","v":81.3},{"s":"RUB","d":"2020/10/31","v":81.7},{"s":"RUB","d":"2020/11/03","v":82.1},{"s":"RUB","d":"2020/11/05","v":81.2},{"s":"RUB","d":"2020/11/07","v":81.7},{"s":"RUB","d":"2020/11/10","v":82.3},{"s":"RUB","d":"2020/11/12","v":82.1},{"s":"RUB","d":"2020/11/14","v":82.3},{"s":"RUB","d":"2020/11/17","v":82.8},{"s":"RUB","d":"2020/11/20","v":82.4},{"s":"RUB","d":"2020/11/23","v":81.9},{"s":"RUB","d":"2020/11/26","v":83.9},{"s":"RUB","d":"2020/11/27","v":84.9},{"s":"RUB","d":"2020/11/30","v":85.0},{"s":"RUB","d":"2020/12/03","v":85.4},{"s":"RUB","d":"2020/12/05","v":85.2},{"s":"RUB","d":"2020/12/07","v":85.0},{"s":"RUB","d":"2020/12/09","v":85.8},{"s":"RUB","d":"2020/12/11","v":84.7},{"s":"RUB","d":"2020/12/13","v":83.6},{"s":"RUB","d":"2020/12/14","v":82.6},{"s":"RUB","d":"2020/12/16","v":84.7},{"s":"RUB","d":"2020/12/19","v":84.9},{"s":"RUB","d":"2020/12/22","v":84.5},{"s":"RUB","d":"2020/12/24","v":84.3},{"s":"RUB","d":"2020/12/27","v":84.5},{"s":"RUB","d":"2020/12/30","v":84.1},{"s":"RUB","d":"2021/01/02","v":84.9},{"s":"RUB","d":"2021/01/05","v":85.2},{"s":"RUB","d":"2021/01/07","v":85.4},{"s":"RUB","d":"2021/01/09","v":84.7},{"s":"RUB","d":"2021/01/12","v":85.0},{"s":"RUB","d":"2021/01/14","v":83.2},{"s":"RUB","d":"2021/01/16","v":82.8},{"s":"RUB","d":"2021/01/19","v":82.6},{"s":"RUB","d":"2021/01/21","v":82.3},{"s":"RUB","d":"2021/01/24","v":82.4},{"s":"RUB","d":"2021/01/27","v":83.2},{"s":"RUB","d":"2021/01/29","v":84.1},{"s":"RUB","d":"2021/02/01","v":84.3},{"s":"RUB","d":"2021/02/04","v":84.5},{"s":"RUB","d":"2021/02/06","v":85.2},{"s":"RUB","d":"2021/02/09","v":85.2},{"s":"RUB","d":"2021/02/12","v":85.0},{"s":"RUB","d":"2021/02/15","v":85.2},{"s":"RUB","d":"2021/02/17","v":83.9},{"s":"RUB","d":"2021/02/20","v":84.3},{"s":"RUB","d":"2021/02/22","v":84.7},{"s":"RUB","d":"2021/02/24","v":84.1},{"s":"RUB","d":"2021/02/26","v":84.1},{"s":"RUB","d":"2021/03/01","v":84.5},{"s":"RUB","d":"2021/03/04","v":85.2},{"s":"RUB","d":"2021/03/06","v":85.8},{"s":"RUB","d":"2021/03/08","v":86.0},{"s":"RUB","d":"2021/03/10","v":84.3},{"s":"RUB","d":"2021/03/13","v":83.9},{"s":"RUB","d":"2021/03/15","v":81.9},{"s":"RUB","d":"2021/03/18","v":82.6},{"s":"RUB","d":"2021/03/20","v":82.6},{"s":"RUB","d":"2021/03/23","v":82.4},{"s":"RUB","d":"2021/03/25","v":82.1},{"s":"RUB","d":"2021/03/27","v":82.1},{"s":"RUB","d":"2021/03/29","v":81.5},{"s":"RUB","d":"2021/03/31","v":81.3},{"s":"RUB","d":"2021/04/02","v":81.0},

      {"s":"TRY","d":"2020/01/01","v":101.1},{"s":"TRY","d":"2020/01/03","v":101.3},{"s":"TRY","d":"2020/01/06","v":101.2},{"s":"TRY","d":"2020/01/09","v":101.5},{"s":"TRY","d":"2020/01/11","v":101.1},{"s":"TRY","d":"2020/01/14","v":100.9},{"s":"TRY","d":"2020/01/16","v":100.6},{"s":"TRY","d":"2020/01/20","v":100.2},{"s":"TRY","d":"2020/01/23","v":99.9},{"s":"TRY","d":"2020/01/26","v":99.9},{"s":"TRY","d":"2020/01/29","v":99.4},{"s":"TRY","d":"2020/02/01","v":99.1},{"s":"TRY","d":"2020/02/04","v":99.1},{"s":"TRY","d":"2020/02/06","v":98.9},{"s":"TRY","d":"2020/02/07","v":99.2},{"s":"TRY","d":"2020/02/10","v":98.6},{"s":"TRY","d":"2020/02/13","v":98.4},{"s":"TRY","d":"2020/02/15","v":98.0},{"s":"TRY","d":"2020/02/18","v":97.4},{"s":"TRY","d":"2020/02/19","v":96.1},{"s":"TRY","d":"2020/02/21","v":96.5},{"s":"TRY","d":"2020/02/23","v":97.1},{"s":"TRY","d":"2020/02/25","v":97.6},{"s":"TRY","d":"2020/02/26","v":98.0},{"s":"TRY","d":"2020/02/28","v":97.8},{"s":"TRY","d":"2020/03/02","v":96.9},{"s":"TRY","d":"2020/03/04","v":96.2},{"s":"TRY","d":"2020/03/06","v":94.5},{"s":"TRY","d":"2020/03/08","v":93.4},{"s":"TRY","d":"2020/03/10","v":92.8},{"s":"TRY","d":"2020/03/12","v":91.0},{"s":"TRY","d":"2020/03/14","v":90.8},{"s":"TRY","d":"2020/03/15","v":90.9},{"s":"TRY","d":"2020/03/17","v":92.8},{"s":"TRY","d":"2020/03/19","v":92.4},{"s":"TRY","d":"2020/03/21","v":91.0},{"s":"TRY","d":"2020/03/23","v":90.2},{"s":"TRY","d":"2020/03/24","v":89.1},{"s":"TRY","d":"2020/03/26","v":88.4},{"s":"TRY","d":"2020/03/28","v":88.0},{"s":"TRY","d":"2020/03/30","v":88.4},{"s":"TRY","d":"2020/04/01","v":89.3},{"s":"TRY","d":"2020/04/03","v":88.7},{"s":"TRY","d":"2020/04/06","v":88.0},{"s":"TRY","d":"2020/04/08","v":86.0},{"s":"TRY","d":"2020/04/10","v":85.8},{"s":"TRY","d":"2020/04/13","v":85.6},{"s":"TRY","d":"2020/04/15","v":85.4},{"s":"TRY","d":"2020/04/17","v":85.6},{"s":"TRY","d":"2020/04/20","v":85.2},{"s":"TRY","d":"2020/04/22","v":85.4},{"s":"TRY","d":"2020/04/23","v":84.9},{"s":"TRY","d":"2020/04/26","v":84.3},{"s":"TRY","d":"2020/04/28","v":82.8},{"s":"TRY","d":"2020/04/29","v":83.9},{"s":"TRY","d":"2020/05/01","v":84.1},{"s":"TRY","d":"2020/05/03","v":85.0},{"s":"TRY","d":"2020/05/06","v":85.4},{"s":"TRY","d":"2020/05/08","v":86.3},{"s":"TRY","d":"2020/05/11","v":87.6},{"s":"TRY","d":"2020/05/14","v":88.2},{"s":"TRY","d":"2020/05/17","v":88.4},{"s":"TRY","d":"2020/05/20","v":88.4},{"s":"TRY","d":"2020/05/23","v":88.6},{"s":"TRY","d":"2020/05/25","v":88.7},{"s":"TRY","d":"2020/05/27","v":88.0},{"s":"TRY","d":"2020/05/29","v":88.4},{"s":"TRY","d":"2020/05/31","v":88.4},{"s":"TRY","d":"2020/06/01","v":87.8},{"s":"TRY","d":"2020/06/03","v":87.3},{"s":"TRY","d":"2020/06/06","v":87.3},{"s":"TRY","d":"2020/06/12","v":87.1},{"s":"TRY","d":"2020/06/16","v":86.9},{"s":"TRY","d":"2020/06/21","v":86.7},{"s":"TRY","d":"2020/06/27","v":86.7},{"s":"TRY","d":"2020/07/04","v":86.7},{"s":"TRY","d":"2020/07/12","v":86.7},{"s":"TRY","d":"2020/07/16","v":86.9},{"s":"TRY","d":"2020/07/19","v":86.7},{"s":"TRY","d":"2020/07/20","v":85.4},{"s":"TRY","d":"2020/07/22","v":85.2},{"s":"TRY","d":"2020/07/25","v":85.8},{"s":"TRY","d":"2020/07/27","v":86.3},{"s":"TRY","d":"2020/07/28","v":85.4},{"s":"TRY","d":"2020/07/29","v":82.8},{"s":"TRY","d":"2020/07/31","v":82.3},{"s":"TRY","d":"2020/08/02","v":82.1},{"s":"TRY","d":"2020/08/04","v":81.9},{"s":"TRY","d":"2020/08/06","v":81.3},{"s":"TRY","d":"2020/08/09","v":81.0},{"s":"TRY","d":"2020/08/12","v":81.3},{"s":"TRY","d":"2020/08/15","v":81.3},{"s":"TRY","d":"2020/08/16","v":81.0},{"s":"TRY","d":"2020/08/19","v":80.8},{"s":"TRY","d":"2020/08/23","v":80.6},{"s":"TRY","d":"2020/08/26","v":80.2},{"s":"TRY","d":"2020/08/28","v":80.4},{"s":"TRY","d":"2020/08/30","v":79.9},{"s":"TRY","d":"2020/09/02","v":79.9},{"s":"TRY","d":"2020/09/05","v":79.5},{"s":"TRY","d":"2020/09/08","v":79.5},{"s":"TRY","d":"2020/09/11","v":78.7},{"s":"TRY","d":"2020/09/14","v":78.4},{"s":"TRY","d":"2020/09/15","v":78.0},{"s":"TRY","d":"2020/09/17","v":77.6},{"s":"TRY","d":"2020/09/19","v":77.8},{"s":"TRY","d":"2020/09/21","v":76.3},{"s":"TRY","d":"2020/09/23","v":76.9},{"s":"TRY","d":"2020/09/26","v":76.9},{"s":"TRY","d":"2020/09/28","v":76.2},{"s":"TRY","d":"2020/09/29","v":76.3},{"s":"TRY","d":"2020/10/01","v":75.2},{"s":"TRY","d":"2020/10/03","v":76.0},{"s":"TRY","d":"2020/10/06","v":75.4},{"s":"TRY","d":"2020/10/09","v":75.0},{"s":"TRY","d":"2020/10/12","v":75.8},{"s":"TRY","d":"2020/10/13","v":76.2},{"s":"TRY","d":"2020/10/15","v":75.0},{"s":"TRY","d":"2020/10/17","v":73.9},{"s":"TRY","d":"2020/10/19","v":72.4},{"s":"TRY","d":"2020/10/21","v":71.2},{"s":"TRY","d":"2020/10/24","v":70.6},{"s":"TRY","d":"2020/10/26","v":70.2},{"s":"TRY","d":"2020/10/28","v":69.9},{"s":"TRY","d":"2020/10/30","v":71.3},{"s":"TRY","d":"2020/10/31","v":74.7},{"s":"TRY","d":"2020/11/02","v":75.4},{"s":"TRY","d":"2020/11/03","v":76.9},{"s":"TRY","d":"2020/11/05","v":77.6},{"s":"TRY","d":"2020/11/07","v":77.3},{"s":"TRY","d":"2020/11/09","v":77.6},{"s":"TRY","d":"2020/11/10","v":78.7},{"s":"TRY","d":"2020/11/12","v":76.9},{"s":"TRY","d":"2020/11/14","v":74.3},{"s":"TRY","d":"2020/11/16","v":74.7},{"s":"TRY","d":"2020/11/18","v":75.4},{"s":"TRY","d":"2020/11/21","v":75.8},{"s":"TRY","d":"2020/11/24","v":76.0},{"s":"TRY","d":"2020/11/26","v":76.3},{"s":"TRY","d":"2020/11/28","v":76.2},{"s":"TRY","d":"2020/11/30","v":76.0},{"s":"TRY","d":"2020/12/03","v":75.6},{"s":"TRY","d":"2020/12/06","v":76.0},{"s":"TRY","d":"2020/12/09","v":76.0},{"s":"TRY","d":"2020/12/11","v":76.3},{"s":"TRY","d":"2020/12/13","v":76.7},{"s":"TRY","d":"2020/12/15","v":77.6},{"s":"TRY","d":"2020/12/17","v":78.7},{"s":"TRY","d":"2020/12/20","v":79.9},{"s":"TRY","d":"2020/12/22","v":80.8},{"s":"TRY","d":"2020/12/24","v":80.0},{"s":"TRY","d":"2020/12/27","v":80.4},{"s":"TRY","d":"2020/12/29","v":81.3},{"s":"TRY","d":"2020/12/31","v":81.2},{"s":"TRY","d":"2021/01/02","v":79.9},{"s":"TRY","d":"2021/01/04","v":80.8},{"s":"TRY","d":"2021/01/06","v":79.7},{"s":"TRY","d":"2021/01/07","v":80.8},{"s":"TRY","d":"2021/01/09","v":80.2},{"s":"TRY","d":"2021/01/12","v":80.6},{"s":"TRY","d":"2021/01/14","v":80.2},{"s":"TRY","d":"2021/01/16","v":80.4},{"s":"TRY","d":"2021/01/18","v":81.2},{"s":"TRY","d":"2021/01/20","v":81.3},{"s":"TRY","d":"2021/01/21","v":82.1},{"s":"TRY","d":"2021/01/24","v":82.8},{"s":"TRY","d":"2021/01/26","v":83.6},{"s":"TRY","d":"2021/01/28","v":84.3},{"s":"TRY","d":"2021/01/31","v":84.3},{"s":"TRY","d":"2021/02/03","v":84.5},{"s":"TRY","d":"2021/02/05","v":85.0},{"s":"TRY","d":"2021/02/07","v":85.4},{"s":"TRY","d":"2021/02/10","v":85.2},{"s":"TRY","d":"2021/02/12","v":85.4},{"s":"TRY","d":"2021/02/14","v":84.3},{"s":"TRY","d":"2021/02/16","v":82.4},{"s":"TRY","d":"2021/02/18","v":80.2},{"s":"TRY","d":"2021/02/19","v":81.0},{"s":"TRY","d":"2021/02/21","v":81.7},{"s":"TRY","d":"2021/02/23","v":79.9},{"s":"TRY","d":"2021/02/25","v":79.1},{"s":"TRY","d":"2021/02/27","v":77.6},{"s":"TRY","d":"2021/02/28","v":76.7},{"s":"TRY","d":"2021/03/02","v":78.4},{"s":"TRY","d":"2021/03/04","v":79.5},{"s":"TRY","d":"2021/03/05","v":78.7},{"s":"TRY","d":"2021/03/07","v":78.9},{"s":"TRY","d":"2021/03/09","v":79.5},{"s":"TRY","d":"2021/03/11","v":82.4},{"s":"TRY","d":"2021/03/13","v":79.5},{"s":"TRY","d":"2021/03/15","v":75.4},{"s":"TRY","d":"2021/03/17","v":74.9},{"s":"TRY","d":"2021/03/19","v":73.6},{"s":"TRY","d":"2021/03/20","v":72.8},{"s":"TRY","d":"2021/03/22","v":71.7},{"s":"TRY","d":"2021/03/24","v":73.2},{"s":"TRY","d":"2021/03/26","v":73.4},{"s":"TRY","d":"2021/03/29","v":73.2},{"s":"TRY","d":"2021/03/31","v":72.9},{"s":"TRY","d":"2021/04/02","v":72.8},

      {"s":"ARS","d":"2020/01/01","v":100.0},{"s":"ARS","d":"2020/01/11","v":100.0},{"s":"ARS","d":"2020/01/14","v":99.7},{"s":"ARS","d":"2020/01/20","v":99.7},{"s":"ARS","d":"2020/01/26","v":99.3},{"s":"ARS","d":"2020/01/31","v":98.9},{"s":"ARS","d":"2020/02/04","v":98.4},{"s":"ARS","d":"2020/02/07","v":97.8},{"s":"ARS","d":"2020/02/10","v":97.3},{"s":"ARS","d":"2020/02/15","v":97.1},{"s":"ARS","d":"2020/02/18","v":96.7},{"s":"ARS","d":"2020/02/23","v":96.5},{"s":"ARS","d":"2020/02/25","v":96.0},{"s":"ARS","d":"2020/03/02","v":95.8},{"s":"ARS","d":"2020/03/05","v":95.6},{"s":"ARS","d":"2020/03/08","v":95.2},{"s":"ARS","d":"2020/03/11","v":94.7},{"s":"ARS","d":"2020/03/13","v":94.3},{"s":"ARS","d":"2020/03/15","v":93.9},{"s":"ARS","d":"2020/03/17","v":93.4},{"s":"ARS","d":"2020/03/21","v":92.8},{"s":"ARS","d":"2020/03/24","v":92.8},{"s":"ARS","d":"2020/03/27","v":92.4},{"s":"ARS","d":"2020/03/31","v":92.4},{"s":"ARS","d":"2020/04/03","v":92.4},{"s":"ARS","d":"2020/04/06","v":91.7},{"s":"ARS","d":"2020/04/09","v":91.2},{"s":"ARS","d":"2020/04/12","v":90.8},{"s":"ARS","d":"2020/04/15","v":90.4},{"s":"ARS","d":"2020/04/18","v":90.2},{"s":"ARS","d":"2020/04/22","v":89.9},{"s":"ARS","d":"2020/04/25","v":89.7},{"s":"ARS","d":"2020/04/28","v":89.3},{"s":"ARS","d":"2020/05/02","v":88.9},{"s":"ARS","d":"2020/05/06","v":88.7},{"s":"ARS","d":"2020/05/08","v":88.4},{"s":"ARS","d":"2020/05/12","v":88.2},{"s":"ARS","d":"2020/05/17","v":88.2},{"s":"ARS","d":"2020/05/20","v":87.6},{"s":"ARS","d":"2020/05/23","v":87.6},{"s":"ARS","d":"2020/05/25","v":87.3},{"s":"ARS","d":"2020/05/31","v":87.1},{"s":"ARS","d":"2020/06/01","v":86.9},{"s":"ARS","d":"2020/06/05","v":86.5},{"s":"ARS","d":"2020/06/08","v":86.3},{"s":"ARS","d":"2020/06/12","v":85.9},{"s":"ARS","d":"2020/06/16","v":85.8},{"s":"ARS","d":"2020/06/19","v":85.4},{"s":"ARS","d":"2020/06/23","v":85.2},{"s":"ARS","d":"2020/06/28","v":84.9},{"s":"ARS","d":"2020/07/02","v":84.7},{"s":"ARS","d":"2020/07/06","v":84.5},{"s":"ARS","d":"2020/07/09","v":84.1},{"s":"ARS","d":"2020/07/13","v":83.9},{"s":"ARS","d":"2020/07/16","v":83.4},{"s":"ARS","d":"2020/07/19","v":83.4},{"s":"ARS","d":"2020/07/23","v":82.8},{"s":"ARS","d":"2020/07/27","v":82.6},{"s":"ARS","d":"2020/07/31","v":82.3},{"s":"ARS","d":"2020/08/03","v":82.3},{"s":"ARS","d":"2020/08/07","v":81.9},{"s":"ARS","d":"2020/08/11","v":81.7},{"s":"ARS","d":"2020/08/15","v":81.5},{"s":"ARS","d":"2020/08/20","v":81.2},{"s":"ARS","d":"2020/08/25","v":80.8},{"s":"ARS","d":"2020/08/29","v":80.4},{"s":"ARS","d":"2020/09/02","v":80.2},{"s":"ARS","d":"2020/09/07","v":79.9},{"s":"ARS","d":"2020/09/11","v":79.3},{"s":"ARS","d":"2020/09/15","v":79.1},{"s":"ARS","d":"2020/09/19","v":78.7},{"s":"ARS","d":"2020/09/23","v":78.4},{"s":"ARS","d":"2020/09/28","v":78.0},{"s":"ARS","d":"2020/10/01","v":77.8},{"s":"ARS","d":"2020/10/05","v":77.5},{"s":"ARS","d":"2020/10/11","v":77.1},{"s":"ARS","d":"2020/10/15","v":76.9},{"s":"ARS","d":"2020/10/20","v":76.5},{"s":"ARS","d":"2020/10/24","v":76.2},{"s":"ARS","d":"2020/10/30","v":76.0},{"s":"ARS","d":"2020/11/04","v":75.4},{"s":"ARS","d":"2020/11/09","v":75.0},{"s":"ARS","d":"2020/11/13","v":74.7},{"s":"ARS","d":"2020/11/18","v":74.3},{"s":"ARS","d":"2020/11/22","v":73.7},{"s":"ARS","d":"2020/11/25","v":73.4},{"s":"ARS","d":"2020/11/30","v":73.2},{"s":"ARS","d":"2020/12/05","v":72.8},{"s":"ARS","d":"2020/12/09","v":72.3},{"s":"ARS","d":"2020/12/13","v":71.9},{"s":"ARS","d":"2020/12/17","v":71.7},{"s":"ARS","d":"2020/12/22","v":71.3},{"s":"ARS","d":"2020/12/25","v":70.9},{"s":"ARS","d":"2020/12/30","v":70.8},{"s":"ARS","d":"2021/01/03","v":70.4},{"s":"ARS","d":"2021/01/07","v":70.2},{"s":"ARS","d":"2021/01/11","v":69.7},{"s":"ARS","d":"2021/01/14","v":69.5},{"s":"ARS","d":"2021/01/19","v":68.9},{"s":"ARS","d":"2021/01/23","v":68.6},{"s":"ARS","d":"2021/01/29","v":68.2},{"s":"ARS","d":"2021/02/02","v":67.8},{"s":"ARS","d":"2021/02/08","v":67.6},{"s":"ARS","d":"2021/02/10","v":67.1},{"s":"ARS","d":"2021/02/17","v":66.9},{"s":"ARS","d":"2021/02/19","v":66.5},{"s":"ARS","d":"2021/02/28","v":66.3},{"s":"ARS","d":"2021/03/02","v":65.9},{"s":"ARS","d":"2021/03/11","v":65.7},{"s":"ARS","d":"2021/03/14","v":65.4},{"s":"ARS","d":"2021/03/28","v":65.4},{"s":"ARS","d":"2021/03/30","v":64.9},{"s":"ARS","d":"2021/04/02","v":64.9},

      {"s":"INR","d":"2020/01/01","v":100.9},{"s":"INR","d":"2020/01/05","v":101.0},{"s":"INR","d":"2020/01/09","v":100.9},{"s":"INR","d":"2020/01/14","v":100.1},{"s":"INR","d":"2020/01/18","v":100.1},{"s":"INR","d":"2020/01/23","v":100.3},{"s":"INR","d":"2020/01/26","v":100.1},{"s":"INR","d":"2020/01/31","v":99.9},{"s":"INR","d":"2020/02/04","v":99.7},{"s":"INR","d":"2020/02/07","v":99.9},{"s":"INR","d":"2020/02/12","v":99.5},{"s":"INR","d":"2020/02/17","v":99.3},{"s":"INR","d":"2020/02/20","v":99.1},{"s":"INR","d":"2020/02/23","v":98.4},{"s":"INR","d":"2020/02/24","v":97.2},{"s":"INR","d":"2020/02/28","v":96.8},{"s":"INR","d":"2020/03/02","v":96.9},{"s":"INR","d":"2020/03/05","v":96.0},{"s":"INR","d":"2020/03/07","v":95.5},{"s":"INR","d":"2020/03/10","v":94.8},{"s":"INR","d":"2020/03/13","v":94.7},{"s":"INR","d":"2020/03/15","v":93.8},{"s":"INR","d":"2020/03/19","v":95.2},{"s":"INR","d":"2020/03/23","v":94.5},{"s":"INR","d":"2020/03/25","v":94.3},{"s":"INR","d":"2020/03/28","v":93.6},{"s":"INR","d":"2020/03/31","v":93.4},{"s":"INR","d":"2020/04/06","v":93.7},{"s":"INR","d":"2020/04/10","v":93.4},{"s":"INR","d":"2020/04/14","v":94.1},{"s":"INR","d":"2020/04/20","v":93.7},{"s":"INR","d":"2020/04/25","v":94.7},{"s":"INR","d":"2020/04/28","v":93.6},{"s":"INR","d":"2020/05/03","v":94.9},{"s":"INR","d":"2020/05/07","v":94.3},{"s":"INR","d":"2020/05/13","v":94.7},{"s":"INR","d":"2020/05/19","v":94.1},{"s":"INR","d":"2020/05/24","v":95.2},{"s":"INR","d":"2020/05/31","v":94.7},{"s":"INR","d":"2020/06/05","v":94.3},{"s":"INR","d":"2020/06/08","v":93.6},{"s":"INR","d":"2020/06/11","v":93.7},{"s":"INR","d":"2020/06/18","v":95.0},{"s":"INR","d":"2020/06/23","v":94.5},{"s":"INR","d":"2020/06/30","v":95.4},{"s":"INR","d":"2020/07/06","v":94.9},{"s":"INR","d":"2020/07/13","v":95.8},{"s":"INR","d":"2020/07/18","v":95.4},{"s":"INR","d":"2020/07/27","v":95.3},{"s":"INR","d":"2020/08/01","v":95.3},{"s":"INR","d":"2020/08/10","v":95.8},{"s":"INR","d":"2020/08/15","v":95.0},{"s":"INR","d":"2020/08/18","v":97.3},{"s":"INR","d":"2020/08/22","v":96.7},{"s":"INR","d":"2020/08/29","v":97.5},{"s":"INR","d":"2020/09/03","v":96.9},{"s":"INR","d":"2020/09/11","v":97.3},{"s":"INR","d":"2020/09/18","v":96.7},{"s":"INR","d":"2020/09/23","v":97.6},{"s":"INR","d":"2020/09/30","v":97.6},{"s":"INR","d":"2020/10/07","v":97.5},{"s":"INR","d":"2020/10/13","v":96.9},{"s":"INR","d":"2020/10/20","v":96.3},{"s":"INR","d":"2020/10/27","v":96.0},{"s":"INR","d":"2020/11/02","v":96.2},{"s":"INR","d":"2020/11/09","v":95.8},{"s":"INR","d":"2020/11/15","v":96.7},{"s":"INR","d":"2020/11/22","v":96.3},{"s":"INR","d":"2020/11/28","v":97.1},{"s":"INR","d":"2020/12/06","v":96.7},{"s":"INR","d":"2020/12/11","v":97.3},{"s":"INR","d":"2020/12/20","v":96.7},{"s":"INR","d":"2020/12/26","v":97.8},{"s":"INR","d":"2021/01/02","v":97.5},{"s":"INR","d":"2021/01/08","v":98.0},{"s":"INR","d":"2021/01/16","v":97.6},{"s":"INR","d":"2021/01/23","v":98.2},{"s":"INR","d":"2021/02/01","v":97.8},{"s":"INR","d":"2021/02/08","v":98.7},{"s":"INR","d":"2021/02/17","v":98.4},{"s":"INR","d":"2021/02/18","v":97.5},{"s":"INR","d":"2021/02/23","v":96.7},{"s":"INR","d":"2021/02/28","v":98.4},{"s":"INR","d":"2021/03/07","v":98.0},{"s":"INR","d":"2021/03/12","v":98.7},{"s":"INR","d":"2021/03/20","v":98.4},{"s":"INR","d":"2021/03/22","v":97.8},{"s":"INR","d":"2021/03/30","v":97.3},{"s":"INR","d":"2021/04/02","v":96.3}
    ]
  },
  "data": {"name": "fx"},
  "transform": [
    {"lookup": "s", "from": {"data": {"name": "names"}, "key": "s", "fields": ["name"]}}
  ],
  "mark": {"type": "line", "strokeCap": "round", "strokeJoin": "round"},
  "encoding": {
    "x": {
      "field": "d",
      "type": "temporal",
      "scale": {
        "domain": [{"year": 2020, "month": 1, "date": 1}, {"year": 2021, "month": 4, "date": 1}],
        "range": [131, 944]
      },
      "axis": {
        "orient": "bottom",
        "offset": -105,
        "values": [
          {"year": 2020, "month": 1, "date": 1}, {"year": 2020, "month": 2, "date": 1},
          {"year": 2020, "month": 3, "date": 1}, {"year": 2020, "month": 4, "date": 1},
          {"year": 2020, "month": 5, "date": 1}, {"year": 2020, "month": 6, "date": 1},
          {"year": 2020, "month": 7, "date": 1}, {"year": 2020, "month": 8, "date": 1},
          {"year": 2020, "month": 9, "date": 1}, {"year": 2020, "month": 10, "date": 1},
          {"year": 2020, "month": 11, "date": 1}, {"year": 2020, "month": 12, "date": 1},
          {"year": 2021, "month": 1, "date": 1}, {"year": 2021, "month": 2, "date": 1},
          {"year": 2021, "month": 3, "date": 1}, {"year": 2021, "month": 4, "date": 1}
        ],
        "format": "%Y/%m",
        "labelAngle": 90,
        "labelAlign": "left",
        "labelBaseline": "middle",
        "labelFlush": false,
        "labelOverlap": false,
        "labelFont": "Liberation Mono",
        "labelFontSize": 16,
        "labelColor": "#222222",
        "labelPadding": 6,
        "tickSize": 5,
        "tickColor": "#D9D9D9",
        "domainColor": "#D9D9D9",
        "grid": false,
        "title": "数据来源：Bloomberg，兴业证券经济与金融研究院整理",
        "titleX": 12,
        "titleY": 131,
        "titleAlign": "left",
        "titleBaseline": "middle",
        "titleAngle": 0,
        "titleFont": "Liberation Serif, Noto Sans CJK SC",
        "titleFontSize": 17,
        "titleFontWeight": "normal",
        "titleColor": "#000000"
      }
    },
    "y": {
      "field": "v",
      "type": "quantitative",
      "scale": {"domain": [60, 105], "range": [547, 142], "nice": false, "zero": false},
      "axis": {
        "orient": "left",
        "offset": -131,
        "values": [60, 65, 70, 75, 80, 85, 90, 95, 100, 105],
        "format": ".1f",
        "labelFlush": false,
        "labelFont": "Liberation Mono",
        "labelFontSize": 15,
        "labelColor": "#222222",
        "labelPadding": 19,
        "tickSize": 4,
        "tickColor": "#D9D9D9",
        "domainColor": "#D9D9D9",
        "grid": false,
        "title": null
      }
    },
    "color": {
      "field": "name",
      "type": "nominal",
      "scale": {
        "domain": ["南非兰特兑美元", "巴西雷亚尔兑美元", "墨西哥比索兑美元", "俄罗斯卢布兑美元", "土耳其里拉兑美元", "阿根廷比索兑美元", "印度卢比兑美元"],
        "range": ["#002060", "#FF0000", "#A5A5A5", "#FF0000", "#FF0000", "#A5A5A5", "#002060"]
      },
      "legend": {
        "title": "2020年以来部分新兴市场国家汇率（2020-01-01定基）",
        "orient": "none",
        "direction": "horizontal",
        "legendX": 194,
        "legendY": 48,
        "columns": 3,
        "columnPadding": 12,
        "rowPadding": 9,
        "symbolType": "M-1,0H9",
        "symbolSize": 100,
        "labelFont": "Noto Sans CJK SC",
        "labelFontSize": 17,
        "labelColor": "#000000",
        "labelOffset": 45,
        "labelLimit": 400,
        "titleFont": "Noto Sans CJK SC",
        "titleFontSize": 21,
        "titleFontWeight": "normal",
        "titleColor": "#000000",
        "titleAnchor": "middle",
        "titleAlign": "center",
        "titleLimit": 1000,
        "titlePadding": 9,
        "padding": 0
      }
    },
    "strokeDash": {
      "field": "name",
      "type": "nominal",
      "scale": {
        "domain": ["南非兰特兑美元", "巴西雷亚尔兑美元", "墨西哥比索兑美元", "俄罗斯卢布兑美元", "土耳其里拉兑美元", "阿根廷比索兑美元", "印度卢比兑美元"],
        "range": [[1, 0], [10, 14], [7, 9], [1, 2], [1, 0], [1, 0], [10, 14]]
      },
      "legend": {"title": "2020年以来部分新兴市场国家汇率（2020-01-01定基）"}
    },
    "strokeWidth": {
      "field": "name",
      "type": "nominal",
      "scale": {
        "type": "ordinal",
        "domain": ["南非兰特兑美元", "巴西雷亚尔兑美元", "墨西哥比索兑美元", "俄罗斯卢布兑美元", "土耳其里拉兑美元", "阿根廷比索兑美元", "印度卢比兑美元"],
        "range": [2.2, 4.5, 3, 1, 2.6, 2.8, 4.5]
      },
      "legend": {"title": "2020年以来部分新兴市场国家汇率（2020-01-01定基）"}
    }
  },
  "config": {
    "view": {"stroke": "#000000", "strokeWidth": 1.4, "strokeDash": [1020, 652], "fill": null},
    "font": "Noto Sans CJK SC"
  }
}
